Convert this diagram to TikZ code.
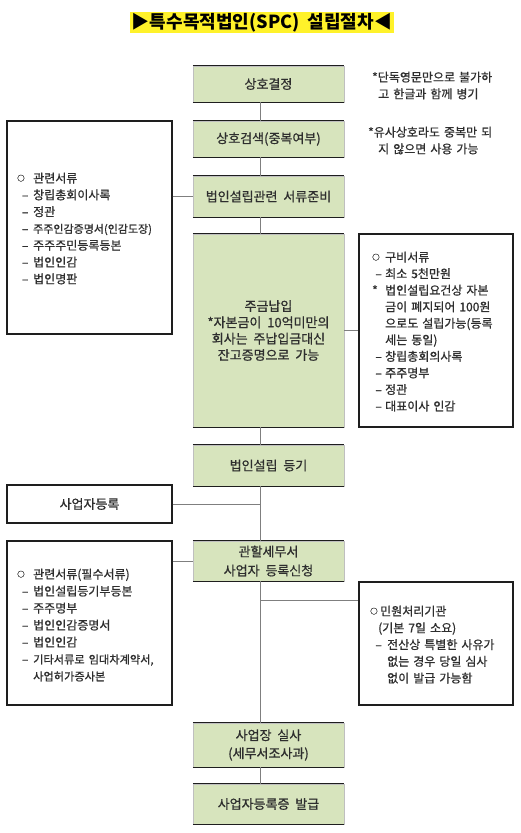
\documentclass[tikz,border=0pt]{standalone}
\usepackage{fontspec}
\setmainfont[WordSpace=2,FakeBold=0.8]{Noto Sans CJK KR}
\newfontfamily\titlefont[WordSpace=2]{Noto Sans CJK KR}
\definecolor{boxgreen}{HTML}{D7E4BD}
\definecolor{txt}{HTML}{2E2E2E}
\definecolor{linegray}{HTML}{7F7F7F}
\definecolor{edgeblack}{HTML}{1E1E1E}
\definecolor{titleyellow}{HTML}{FFF22A}
\newcommand\mkl[2]{\makebox[#1][l]{#2}}
\newcommand\mkc[2]{\makebox[#1][c]{#2}}
\newcommand\circmark{\raisebox{1.6pt}{\fontsize{7.5}{7.5}\selectfont ○}}
\begin{document}
\begin{tikzpicture}[x=1pt,y=-1pt,
  gbox/.style={rectangle, draw=linegray!50, line width=0.4pt, fill=boxgreen,
    minimum width=151pt, inner sep=0pt, align=center, text=txt,
    font=\fontsize{13}{18}\selectfont},
  wbox/.style={rectangle, draw=edgeblack, line width=1.1pt, fill=white,
    minimum width=165pt, inner sep=0pt},
  rbox/.style={rectangle, draw=edgeblack, line width=1.1pt, fill=white,
    minimum width=154pt, inner sep=0pt},
  listtext/.style={anchor=base west, inner sep=0pt, text width=150pt, align=left,
    text=txt, font=\fontsize{12}{16.8}\selectfont},
  conn/.style={draw=linegray, line width=1pt},
  edge/.style={draw=edgeblack, line width=1.2pt}]
\useasboundingbox (0,0) rectangle (521,833);

% title
\node[fill=titleyellow, inner sep=1.5pt, text=black,
  font=\titlefont\fontsize{18}{20}\selectfont\bfseries] (title) at (262,22.5)
  {▶특수목적법인(SPC) 설립절차◀};

\coordinate (trunk) at (260,0);

% green boxes
\node[gbox, minimum height=36pt]  (b1) at (268.5,84)    {상호결정};
\node[gbox, minimum height=36pt]  (b2) at (268.5,139)   {상호검색(중복여부)};
\node[gbox, minimum height=41pt]  (b3) at (268.5,196.5) {법인설립관련 서류준비};
\node[gbox, minimum height=193pt, font=\fontsize{13}{16.3}\selectfont]
  (b4) at (268.5,330.5) {주금납입\\*자본금이 10억미만의\\회사는 주납입금대신\\잔고증명으로 가능};
\node[gbox, minimum height=41pt]  (b5) at (268.5,465.5) {법인설립 등기};
\node[gbox, minimum height=40pt, font=\fontsize{13}{19}\selectfont]
  (b6) at (268.5,561)   {관할세무서\\사업자 등록신청};
\node[gbox, minimum height=44pt]  (b7) at (268.5,745)   {사업장 실사\\(세무서조사과)};
\node[gbox, minimum height=40pt]  (b8) at (268.5,804)   {사업자등록증 발급};
\foreach \b in {b1,b2,b3,b4,b5,b6,b7,b8}{
  \draw[edge] (\b.north west) -- (\b.north east);
  \draw[edge] (\b.south west) -- (\b.south east);
}

% notes
\node[listtext] (n1) at (372,81.6)
  {*단독영문만으로 불가하\\\hspace*{6pt}고 한글과 함께 병기};
\node[listtext] (n2) at (368,136.6)
  {*유사상호라도 중복만 되\\\hspace*{10pt}지 않으면 사용 가능};

% left box 1
\node[wbox, minimum height=213pt] (L1) at (89.5,227.5) {};
\node[listtext] (L1t) at (17,182.6)
  {\mkl{16pt}{\circmark}관련서류\\
   \mkc{16pt}{–}창립총회이사록\\
   \mkc{16pt}{–}정관\\
   \mkc{16pt}{–}{\fontsize{11}{16.8}\selectfont 주주인감증명서(인감도장)}\\
   \mkc{16pt}{–}주주주민등록등본\\
   \mkc{16pt}{–}법인인감\\
   \mkc{16pt}{–}법인명판};

% right box 1
\node[rbox, minimum height=193pt] (R1) at (436,330.5) {};
\node[listtext, font=\fontsize{12}{16.55}\selectfont] (R1t) at (372,261.6)
  {\mkl{13pt}{\circmark}구비서류\\
   \mkc{13pt}{–}최소 5천만원\\
   \mkl{13pt}{*}법인설립요건상 자본\\
   \hspace*{13pt}금이 폐지되어 100원\\
   \hspace*{13pt}으로도 설립가능(등록\\
   \hspace*{13pt}세는 동일)\\
   \mkc{13pt}{–}창립총회의사록\\
   \mkc{13pt}{–}주주명부\\
   \mkc{13pt}{–}정관\\
   \mkc{13pt}{–}대표이사 인감};

% left box 2
\node[wbox, minimum height=38pt, text=txt, font=\fontsize{13}{18}\selectfont]
  (L2) at (89.5,504) {사업자등록};

% left box 3
\node[wbox, minimum height=164pt] (L3) at (89.5,623) {};
\node[listtext, font=\fontsize{12}{17}\selectfont] (L3t) at (17,578.6)
  {\mkl{16pt}{\circmark}관련서류(필수서류)\\
   \mkc{16pt}{–}법인설립등기부등본\\
   \mkc{16pt}{–}주주명부\\
   \mkc{16pt}{–}법인인감증명서\\
   \mkc{16pt}{–}법인인감\\
   \mkc{16pt}{–}{\fontsize{11.2}{17}\selectfont 기타서류로 임대차계약서,}\\
   \hspace*{16pt}{\fontsize{11.2}{17}\selectfont 사업허가증사본}};

% right box 2
\node[rbox, minimum height=123pt] (R2) at (436,643.5) {};
\node[listtext, font=\fontsize{12}{16.75}\selectfont] (R2t) at (370,615.6)
  {\mkl{10pt}{\circmark}민원처리기관\\
   \hspace*{8pt}(기본 7일 소요)\\
   \mkc{17pt}{–}전산상 특별한 사유가\\
   \hspace*{17pt}없는 경우 당일 심사\\
   \hspace*{17pt}없이 발급 가능함};

% trunk connectors
\foreach \a/\c in {b1/b2,b2/b3,b3/b4,b4/b5,b5/b6,b6/b7,b7/b8}{
  \draw[conn] (\a.south -| trunk) -- (\c.north -| trunk);
}
% side connectors
\draw[conn] (b3.west -| L1.east) -- (b3.west);
\draw[conn] (b4.east) -- (R1.west);
\draw[conn] (L2.east) -- (L2.east -| trunk);
\draw[conn] (b6.west -| L3.east) -- (b6.west);
\coordinate (j2) at (260,600);
\draw[conn] (j2) -- (j2 -| R2.west);
\end{tikzpicture}
\end{document}
